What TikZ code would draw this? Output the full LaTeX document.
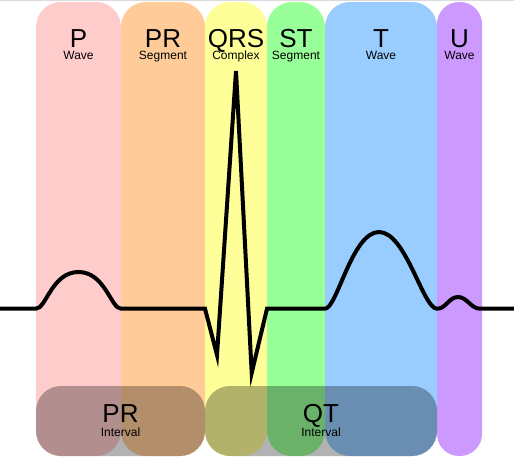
\documentclass[tikz,border=0pt]{standalone}
\usepackage{fontspec}
\setmainfont{Liberation Sans}
\definecolor{pcol}{HTML}{FFCCCC}
\definecolor{prcol}{HTML}{FFCC99}
\definecolor{qrscol}{HTML}{FFFF99}
\definecolor{stcol}{HTML}{99FF99}
\definecolor{tcol}{HTML}{99CCFF}
\definecolor{ucol}{HTML}{CC99FF}

\begin{document}
\begin{tikzpicture}[x=1pt, y=-1pt,
    band/.style={rounded corners=25pt},
    interval/.style={fill=black, fill opacity=0.3, rounded corners=25pt},
    big/.style={anchor=base, inner sep=0pt, text depth=0pt, font=\fontsize{26}{26}\selectfont},
    small/.style={anchor=base, inner sep=0pt, font=\fontsize{12}{12}\selectfont}]
        \useasboundingbox (0,0) rectangle (514,456);
        \fill[black!14] (0,0) rectangle (514,1.3);

        % bands
        \fill[pcol, band] (36,2) rectangle (121,456);
        \fill[prcol, band] (121,2) rectangle (205,456);
        \fill[qrscol, band] (205,2) rectangle (267,456);
        \fill[stcol, band] (267,2) rectangle (325,456);
        \fill[tcol, band] (325,2) rectangle (437,456);
        \fill[ucol, rounded corners=22pt] (437,2) rectangle (482,456);

        % trace
        \draw[line width=4pt] (0,308.7) -- (36,308.7)
            .. controls (46,308.7) and (52,272) .. (78.5,272)
            .. controls (105,272) and (111,308.7) .. (121,308.7)
            -- (205,308.7) -- (217,355) -- (236,71) -- (251.7,373) -- (267,308.7)
            -- (325,308.7)
            .. controls (337,308.7) and (352,232) .. (379,232)
            .. controls (406,232) and (423,308.7) .. (437,308.7)
            .. controls (446,308.7) and (449,297) .. (458,297)
            .. controls (467,297) and (471,308.7) .. (480,308.7)
            -- (514,308.7);

        % intervals
        \fill[interval] (36,386) rectangle (205,456);
        \fill[interval] (205,386) rectangle (437,456);

        \node[big] (p) at (78.5,47) {P};
        \node[small] (pwave) at (78.5,59) {Wave};
        \node[big] (pr) at (163,47) {PR};
        \node[small] (prseg) at (163,59) {Segment};
        \node[big] (qrs) at (236,47) {QRS};
        \node[small] (qrscomp) at (236,59) {Complex};
        \node[big] (st) at (296,47) {ST};
        \node[small] (stseg) at (296,59) {Segment};
        \node[big] (t) at (381,47) {T};
        \node[small] (twave) at (381,59) {Wave};
        \node[big] (u) at (459.5,47) {U};
        \node[small] (uwave) at (459.5,59) {Wave};

        \node[big] (print) at (120.5,422) {PR};
        \node[small] (printlabel) at (120.5,436) {Interval};
        \node[big] (qt) at (321,422) {QT};
        \node[small] (qtlabel) at (321,436) {Interval};
    \end{tikzpicture}
\end{document}
